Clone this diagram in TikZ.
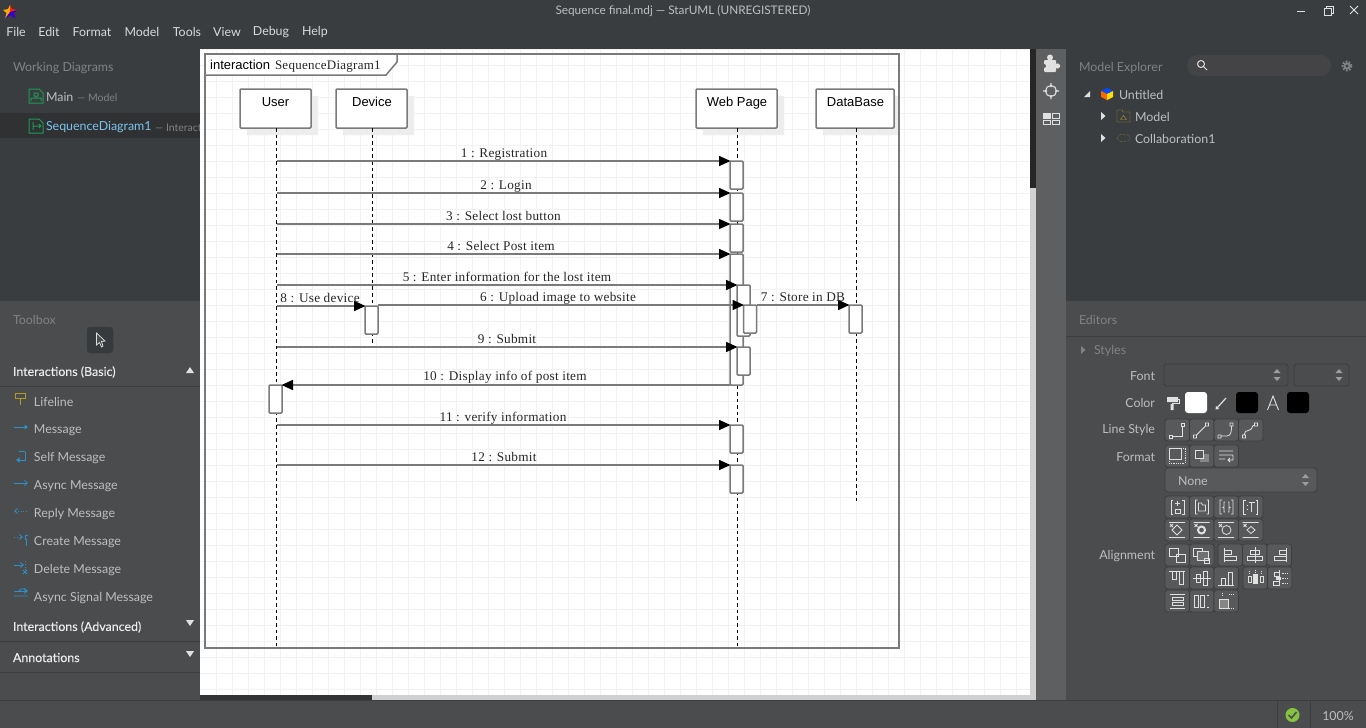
\documentclass[tikz,border=0pt]{standalone}
\usepackage{fontspec}
\usetikzlibrary{arrows.meta,calc}
\newfontfamily\uif{Lato}
\newfontfamily\uib[FakeBold=0.25]{Lato}
\newfontfamily\hsf{Liberation Sans}
\newfontfamily\srf[LetterSpace=2]{Liberation Serif}
\definecolor{panelD}{HTML}{3A3D40}
\definecolor{panelL}{HTML}{4B4C4E}
\definecolor{sel}{HTML}{2F3133}
\definecolor{sep}{HTML}{3C3D3F}
\definecolor{tb}{HTML}{5E5F61}
\definecolor{dim}{HTML}{808284}
\definecolor{txt}{HTML}{BDBEC0}
\definecolor{ink}{HTML}{7A7A7A}
\definecolor{btnf}{HTML}{58595B}
\definecolor{ic}{HTML}{E0E0E0}
\definecolor{blueic}{HTML}{2E8FC9}
\definecolor{yel}{HTML}{B09A28}
\definecolor{grn}{HTML}{1F9A55}
\definecolor{seqb}{HTML}{7CC4EE}
\tikzset{
 ui/.style={inner sep=0,outer sep=0,anchor=west,yshift=-1pt,font=\uif\fontsize{12.4}{15}\selectfont,text=txt},
 uir/.style={ui,anchor=east},
 head/.style={ui,text=dim},
 sect/.style={ui,font=\uib\fontsize{12.4}{15}\selectfont,text=white!92!black},
 fr/.style={draw=ink,line width=1.5pt},
 life/.style={draw=ink,line width=1.5pt,fill=white,rounded corners=1pt,minimum height=39pt,inner sep=0,outer sep=0,anchor=north west},
 lifet/.style={inner sep=0,anchor=base,font=\hsf\fontsize{13}{16}\selectfont,text=black},
 act/.style={draw=ink,line width=1.5pt,fill=white,rounded corners=1pt,inner sep=0,outer sep=0,anchor=north west,minimum width=13pt,minimum height=28pt},
 lf/.style={draw=black,line width=.9pt,dash pattern=on 3.6pt off 3pt},
 msg/.style={draw=ink,line width=1.6pt,-{Triangle[length=11.5pt,width=10pt,color=black]},shorten >=-.5pt},
 lbl/.style={inner sep=0,outer sep=0,anchor=base,font=\srf\fontsize{13.25}{15}\selectfont,text=black!85},
 btn/.style={draw=sep,fill=btnf,rounded corners=2.5pt,line width=.8pt},
 icon/.style={draw=ic,line width=.8pt},
 shad/.style={fill=black!7,draw=none},
}
\newcommand{\bt}[3]{\begin{scope}[shift={(#1,#2)}]\draw[btn] (0,0) rectangle (24.5,22); #3\end{scope}}
\pagestyle{empty}
\begin{document}
\begin{tikzpicture}[x=1pt,y=-1pt]
\useasboundingbox (0,0) rectangle (1366,728);
% panels
\fill[panelD] (0,0) rectangle (1366,728);
\fill[panelL] (0,300) rectangle (200,728);
\fill[panelL] (1066,300) rectangle (1366,728);
\fill[panelL] (0,700) rectangle (1366,728);
\fill[sel] (0,113) rectangle (200,138);
\fill[tb] (1036,49) rectangle (1066,700);
\draw[sep] (0,300.5)--(200,300.5) (1066,300.5)--(1366,300.5) (0,386)--(200,386) (0,641)--(200,641) (0,672)--(200,672) (0,700)--(1366,700) (1277,700)--(1277,728) (1310,700)--(1310,728) (1066,336)--(1366,336);
% title bar
\node[ui,anchor=center,font=\uif\fontsize{11.8}{14}\selectfont] (ttl) at (683,10) {Sequence final.mdj — StarUML (UNREGISTERED)};
\fill[orange!70!yellow] (10,5)--(8,9)--(3,10)--(6.5,13)--(5,19)--(10,12)--cycle;
\fill[red!75!orange] (10,5)--(12,9)--(17.5,10)--(10,12)--cycle;
\fill[blue!55!violet] (17.5,10)--(14,13)--(15.5,18.5)--(10,15.5)--(5,19)--(10,12)--cycle;
\draw[ic] (1297,11)--(1305,11);
\draw[ic] (1324,8) rectangle (1331,15) (1326,8)--(1326,6)--(1333,6)--(1333,13)--(1331,13);
\draw[ic,line width=1pt] (1350,6)--(1358,14) (1358,6)--(1350,14);
% menu
\node[ui,anchor=center,text=white!85!black] (mFile) at (16,31) {File};
\node[ui,anchor=center,text=white!85!black] (mEdit) at (49,31) {Edit};
\node[ui,anchor=center,text=white!85!black] (mFormat) at (92,31) {Format};
\node[ui,anchor=center,text=white!85!black] (mModel) at (142,31) {Model};
\node[ui,anchor=center,text=white!85!black] (mTools) at (187,31) {Tools};
\node[ui,anchor=center,text=white!85!black] (mView) at (227,31) {View};
\node[ui,anchor=center,text=white!85!black] (mDebug) at (271,31) {Debug};
\node[ui,anchor=center,text=white!85!black] (mHelp) at (315,31) {Help};
% working diagrams
\node[head] (wd) at (13,67) {Working Diagrams};
\draw[grn,line width=1pt] (29,89)--(39,89)--(43,93)--(43,103)--(29,103)--cycle (34,93) rectangle (38,96) (36,96)--(36,98) (31,101)--(31,98)--(41,98)--(41,101);
\node[ui] (wdMain) at (46,96) {Main};
\node[ui,text=dim,font=\uif\fontsize{10.5}{13}\selectfont] (wdMainT) at (77,96.5) {— Model};
\draw[grn,line width=1pt] (29,119)--(39,119)--(43,123)--(43,133)--(29,133)--cycle (33,122)--(33,130) (33,126)--(41,126) (39,124)--(41,126)--(39,128);
\node[ui,text=seqb] (wdSeq) at (46,126) {SequenceDiagram1};
\node[ui,text=dim,font=\uif\fontsize{10.5}{13}\selectfont] (wdSeqT) at (155,126.5) {— Interaction};
% canvas
\fill[black!18] (200,49) rectangle (1036,700);
\fill[white] (200,49) rectangle (1030,695);
\fill[black!80] (200,695) rectangle (372,700);
\fill[black!85] (1030,49) rectangle (1036,188);
\begin{scope}
\clip (200,49) rectangle (1030,695);
\foreach \i in {0,...,51} \draw[black!5,line width=.6pt] ({216.5+16*\i},49)--({216.5+16*\i},695);
\foreach \i in {-15,...,25} \draw[black!5,line width=.6pt] (200,{289.3+16*\i})--(1030,{289.3+16*\i});
\end{scope}
% shadows
\fill[shad] (247,96) rectangle (318,135) (343,96) rectangle (414,135) (703,96) rectangle (784,135) (823,96) rectangle (899,135);
% frame
\draw[fr] (205,54) rectangle (899,648);
\draw[fr,fill=white] (205,54)--(397,54)--(397,62)--(386,75)--(205,75)--cycle;
\node[inner sep=0,anchor=west,font=\hsf\fontsize{13}{15}\selectfont] (frK) at (210,64.5) {interaction};
\node[lbl,anchor=base west,font=\srf\fontsize{13}{15}\selectfont] (frN) at (275,69) {SequenceDiagram1};
% lifelines
\node[life,minimum width=71pt] (hU) at (240,89) {}; \node[lifet] (tU) at (275.5,106) {User};
\node[life,minimum width=71pt] (hD) at (336,89) {}; \node[lifet] (tD) at (372,106) {Device};
\node[life,minimum width=81pt] (hW) at (696,89) {}; \node[lifet] (tW) at (737,106) {Web Page};
\node[life,minimum width=78pt] (hB) at (816,89) {}; \node[lifet] (tB) at (855.5,106) {DataBase};
\coordinate (eU) at (276.5,648); \coordinate (eD) at (372.5,347); \coordinate (eW) at (737.5,648); \coordinate (eB) at (856,504);
\draw[lf] (eU|-hU.south)--(eU);
\draw[lf] (eD|-hD.south)--(eD);
\draw[lf] (eW|-hW.south)--(eW);
\draw[lf] (eB|-hB.south)--(eB);
% activations
\node[act] (a1) at (730,161) {};
\node[act] (a2) at (730,193) {};
\node[act] (a3) at (730,224) {};
\node[act,minimum height=131pt] (a4) at (730,254) {};
\node[act,minimum height=51pt] (a5) at (737,285) {};
\node[act] (a6) at (743.5,305) {};
\node[act] (a7) at (849,305) {};
\node[act] (a8) at (365,306) {};
\node[act] (a9) at (737,347) {};
\node[act] (a10) at (269,385) {};
\node[act] (a11) at (730,425) {};
\node[act] (a12) at (730,465) {};
% messages
\draw[msg] (eU|-a1.north west)--(a1.north west);
\draw[msg] (eU|-a2.north west)--(a2.north west);
\draw[msg] (eU|-a3.north west)--(a3.north west);
\draw[msg] (eU|-a4.north west)--(a4.north west);
\draw[msg] (eU|-a5.north west)--(a5.north west);
\draw[msg] (eU|-a8.north west)--(a8.north west);
\draw[msg] (a8.east|-a6.north west)--(a6.north west);
\draw[msg] (a6.north east)--(a7.north west);
\draw[msg] (eU|-a9.north west)--(a9.north west);
\draw[msg] (a4.south west)--(a10.north east);
\draw[msg] (eU|-a11.north west)--(a11.north west);
\draw[msg] (eU|-a12.north west)--(a12.north west);
\node[lbl] (l1) at (504,157) {1 : Registration};
\node[lbl] (l2) at (506,189) {2 : Login};
\node[lbl] (l3) at (503.5,220) {3 : Select lost button};
\node[lbl] (l4) at (501,250) {4 : Select Post item};
\node[lbl] (l5) at (507,281) {5 : Enter information for the lost item};
\node[lbl] (l8) at (320,302) {8 : Use device};
\node[lbl] (l6) at (558,301) {6 : Upload image to website};
\node[lbl] (l7) at (803,301) {7 : Store in DB};
\node[lbl] (l9) at (507,343) {9 : Submit};
\node[lbl] (l10) at (505,380) {10 : Display info of post item};
\node[lbl] (l11) at (503,421) {11 : verify information};
\node[lbl] (l12) at (504,461) {12 : Submit};
% toolbox
\node[head] (tbx) at (13,319) {Toolbox};
\draw[fill=panelD!95!black,draw=sep,rounded corners=3pt] (87,327) rectangle (113,353);
\draw[draw=ic,fill=panelL,line width=.7pt] (96.5,333)--(96.5,345)--(99.5,342.5)--(101.5,347)--(103,346)--(101.5,341.5)--(105,341)--cycle;
\node[sect] (tI) at (13,371) {Interactions (Basic)};
\fill[ic] (186,373)--(194,373)--(190,367)--cycle;
\draw[yel] (15.5,393.5) rectangle (25.5,398) (20.5,398)--(20.5,405);
\node[ui] (i1) at (34,401) {Lifeline};
\draw[blueic,line width=1pt,-{Triangle[length=3.5pt,width=5pt]}] (14,427)--(28,427);
\node[ui] (i2) at (34,429) {Message};
\draw[blueic,line width=1pt,-{Triangle[length=3.5pt,width=5pt]}] (25,451.5)--(25,460)--(16,460);
\draw[blueic,line width=1pt] (25,451.5)--(19,451.5);
\node[ui] (i3) at (34,457) {Self Message};
\draw[blueic,line width=.8pt,-{Straight Barb[length=3pt,width=5pt]}] (14,483)--(28,483);
\node[ui] (i4) at (34,485) {Async Message};
\draw[blueic,line width=.8pt,dotted,{Straight Barb[length=3pt,width=5pt]}-] (14,511)--(28,511);
\node[ui] (i5) at (34,513) {Reply Message};
\draw[blueic,line width=.8pt,dotted,-{Straight Barb[length=3pt,width=5pt]}] (14,537)--(23,537);
\draw[blueic,line width=.8pt] (28,535)--(25,535)--(25,539)--(27,539) (26,539)--(26,546);
\node[ui] (i6) at (34,541) {Create Message};
\draw[blueic,line width=.8pt,-{Straight Barb[length=3pt,width=5pt]}] (14,565)--(24,565);
\draw[blueic,line width=.8pt,dotted] (25,561)--(25,570);
\draw[blueic,line width=.8pt] (23,570)--(27,574) (27,570)--(23,574);
\node[ui] (i7) at (34,569) {Delete Message};
\draw[blueic,line width=.8pt,-{Straight Barb[length=3pt,width=5pt]}] (14,591)--(28,591);
\draw[blueic,line width=.8pt] (14,596)--(28,596) (19,591)--(21,589)--(24,589)--(26,591);
\node[ui] (i8) at (34,597) {Async Signal Message};
\node[sect] (tA) at (13,626) {Interactions (Advanced)};
\fill[ic] (186,620)--(194,620)--(190,626)--cycle;
\node[sect] (tN) at (13,656.5) {Annotations};
\fill[ic] (186,651)--(194,651)--(190,657)--cycle;
% toolbar
\fill[ic,rounded corners=1pt] (1044,60) rectangle (1056,72);
\fill[ic] (1050,57.5) circle (3) (1057.5,66) circle (2.6);
\fill[tb] (1044,66) circle (2);
\draw[ic,line width=1.1pt] (1051,91) circle (5.5) (1051,83)--(1051,87) (1051,95)--(1051,99) (1043,91)--(1047,91) (1055,91)--(1059,91);
\draw[ic] (1043.5,113) rectangle (1050.5,118) (1052.5,113) rectangle (1059.5,118) (1043.5,120) rectangle (1050.5,124) (1052.5,120) rectangle (1059.5,124);
\fill[ic] (1043.5,113) rectangle (1050.5,118);
% model explorer
\node[head] (me) at (1079,67) {Model Explorer};
\fill[panelL!90!black,rounded corners=10pt] (1187,55) rectangle (1331,76);
\draw[ic,line width=1pt] (1201,64) circle (3.5) (1204,67)--(1207,70);
\draw[dim,line width=2.5pt,dash pattern=on 1.5pt off 1.5pt] (1347,66) circle (4.2);
\fill[dim] (1347,66) circle (3.5);
\fill[panelD] (1347,66) circle (1.6);
\fill[ic] (1084,97)--(1090,97)--(1090,91)--cycle;
\fill[blue!70!cyan] (1107,88)--(1113,91)--(1107,94)--(1101,91)--cycle;
\fill[orange!80!red] (1101,91)--(1107,94)--(1107,100)--(1101,97)--cycle;
\fill[yellow!80!orange] (1113,91)--(1107,94)--(1107,100)--(1113,97)--cycle;
\node[ui] (eUntitled) at (1119,94) {Untitled};
\fill[ic] (1101,112)--(1105.5,116)--(1101,120)--cycle;
\draw[yel] (1117,110)--(1122,110)--(1123,112)--(1130,112)--(1130,122)--(1117,122)--cycle (1120.5,119.5)--(1123.5,115.5)--(1126.5,119.5)--cycle;
\node[ui] (eModel) at (1135,116) {Model};
\fill[ic] (1101,134)--(1105.5,138)--(1101,142)--cycle;
\draw[yel,densely dotted] (1123.5,138) ellipse (6.5 and 3.8);
\node[ui] (eCollab) at (1135,138) {Collaboration1};
% editors
\node[head] (ed) at (1079,319) {Editors};
\fill[dim] (1081,346)--(1085.5,350)--(1081,354)--cycle;
\node[ui,text=dim] (eS) at (1094,350) {Styles};
\node[uir] (lFont) at (1155,375) {Font};
\draw[btn,fill=panelL] (1164,364) rectangle (1288,386) (1294,364) rectangle (1349,386);
\foreach \x in {1277,1339} {\fill[ic!70!black] (\x-3.5,373)--(\x+3.5,373)--(\x,369)--cycle (\x-3.5,377)--(\x+3.5,377)--(\x,381)--cycle;}
\node[uir] (lColor) at (1155,402) {Color};
\fill[ic] (1167,397) rectangle (1178,402) (1170.5,404) rectangle (1173.5,410);
\draw[ic] (1178,399.5)--(1179.5,399.5)--(1179.5,403.5)--(1172,403.5)--(1172,405);
\fill[white,rounded corners=3pt] (1185,392) rectangle (1207,413);
\draw[ic,line width=1.2pt] (1217,408)--(1226,398);
\fill[ic] (1215.5,409.5)--(1216,406)--(1219,409)--cycle;
\fill[black,rounded corners=3pt] (1236,392) rectangle (1258,413);
\draw[ic,line width=.9pt] (1267.5,410)--(1273,396)--(1278.5,410) (1269.5,405)--(1276.5,405);
\fill[black,rounded corners=3pt] (1287,392) rectangle (1309,413);
\node[uir] (lLine) at (1155,429) {Line Style};
\bt{1165}{419}{\draw[icon] (4,16) rectangle (7,19) (16,4) rectangle (19,7) (7,17)--(17.5,17)--(17.5,7);}
\bt{1189.5}{419}{\draw[icon] (4,16) rectangle (7,19) (16,4) rectangle (19,7) (7,16)--(16,7);}
\bt{1214}{419}{\draw[icon] (4,16) rectangle (7,19) (16,4) rectangle (19,7) (7,17)--(13,17) to[out=0,in=-90] (17.5,7);}
\bt{1238.5}{419}{\draw[icon] (4,16) rectangle (7,19) (16,4) rectangle (19,7) (5.5,16) to[out=90,in=180] (11,11) to[out=0,in=180] (16,6);}
\node[uir] (lFormat) at (1155,456) {Format};
\bt{1165}{445}{\draw[icon] (4,3) rectangle (16,14); \draw[icon,densely dotted] (16,3)--(20,3)--(20,18)--(4,18)--(4,14);}
\bt{1189.5}{445}{\fill[ic!60!black] (10,9) rectangle (19,17); \draw[icon,fill=btnf] (6,5) rectangle (14,13);}
\bt{1214}{445}{\draw[icon] (5,6)--(19,6) (5,10)--(19,10) (5,14)--(11,14) (19,10)--(19,15)--(14,15) (16,13)--(14,15)--(16,17);}
\draw[btn,rounded corners=3pt] (1165,468) rectangle (1317,492);
\node[ui] (nn) at (1178,480) {None};
\fill[ic!70!black] (1302,478)--(1309,478)--(1305.5,474)--cycle (1302,482)--(1309,482)--(1305.5,486)--cycle;
% row 1
\bt{1165}{496}{\draw[icon] (8,4)--(6,4)--(6,18)--(8,18) (17,4)--(19,4)--(19,18)--(17,18) (12.5,5)--(12.5,10) (10,7.5)--(15,7.5) (10,13) rectangle (15,17);}
\bt{1189.5}{496}{\draw[icon] (8,4)--(6,4)--(6,18)--(8,18) (17,4)--(19,4)--(19,18)--(17,18) (9,15)--(9,7)--(12,7)--(13,9)--(16,9)--(16,15)--cycle;}
\bt{1214}{496}{\draw[icon] (8,4)--(6,4)--(6,18)--(8,18) (17,4)--(19,4)--(19,18)--(17,18) (11,6)--(10,6)--(10,11)--(9,11.5)--(10,12)--(10,16)--(11,16) (14,6)--(15,6)--(15,11)--(16,11.5)--(15,12)--(15,16)--(14,16);}
\bt{1238.5}{496}{\draw[icon] (7,4)--(5,4)--(5,18)--(7,18) (17,4)--(19,4)--(19,18)--(17,18) (10,6)--(16,6) (13,6)--(13,16) (9,9)--(9,9.5) (9,13)--(9,13.5);}
% row 2
\foreach \n/\x in {1/1165,2/1189.5,3/1214,4/1238.5}{\begin{scope}[shift={(\x,519)}]\draw[btn] (0,0) rectangle (24.5,22);\draw[icon] (4,3.5)--(20,3.5) (4,18.5)--(20,18.5) (5,5)--(8,8) (8,5)--(5,8);\end{scope}}
\draw[icon] (1177,525) -- (1182,530)--(1177,535)--(1172,530)--cycle (1251,526.5)--(1255,530)--(1251,533.5)--(1247,530)--cycle (1226.5,530) circle (4.5);
\draw[icon,line width=2pt] (1201.5,530) circle (3.5);
% alignment
\node[uir] (lAlign) at (1155,555) {Alignment};
\bt{1165}{544}{\draw[icon] (4,4) rectangle (13,12) (11,10) rectangle (20,18);}
\bt{1189.5}{544}{\draw[icon] (4,4) rectangle (13,12); \draw[icon,fill=ic!50!black] (8,7) rectangle (19,16); \draw[icon] (15,14) rectangle (20,19);}
\bt{1218}{544}{\draw[icon] (6,4)--(6,18) (6,6.5) rectangle (13,10.5) (6,12.5) rectangle (18,16.5);}
\bt{1242.5}{544}{\draw[icon] (12.5,3)--(12.5,19) (8,6.5) rectangle (17,10.5) (5,12.5) rectangle (20,16.5);}
\bt{1267}{544}{\draw[icon] (19,4)--(19,18) (12,6.5) rectangle (19,10.5) (7,12.5) rectangle (19,16.5);}
\bt{1165}{567}{\draw[icon] (4,4)--(20,4) (7,4) rectangle (11,12) (14,4) rectangle (18,17);}
\bt{1189.5}{567}{\draw[icon] (3,11)--(21,11) (7,7) rectangle (11,15) (14,4) rectangle (18,18);}
\bt{1214}{567}{\draw[icon] (4,18)--(20,18) (7,11) rectangle (11,18) (14,5) rectangle (18,18);}
\bt{1243}{567}{\draw[icon] (5,9) rectangle (8,15) (17,9) rectangle (20,15); \fill[ic] (10,7) rectangle (15,17); \draw[icon,densely dotted] (6.5,4)--(6.5,7) (12.5,3)--(12.5,6) (18.5,4)--(18.5,7);}
\bt{1267.5}{567}{\draw[icon] (12,3)--(12,19) (7,5) rectangle (12,9) (6,14) rectangle (12,18); \fill[ic] (8,10) rectangle (13,13); \draw[icon,densely dotted] (14,6)--(20,6) (14,11)--(20,11) (14,16)--(20,16);}
\bt{1165}{590}{\draw[icon] (5,4)--(20,4) (5,18)--(20,18) (7,7) rectangle (18,10.5) (7,12) rectangle (18,15.5);}
\bt{1189.5}{590}{\draw[icon] (5,5) rectangle (9,17) (11,5) rectangle (15,17); \draw[icon,densely dotted] (17,5)--(20,5) (17,17)--(20,17);}
\bt{1214}{590}{\draw[icon,densely dotted] (8,3)--(8,6) (15,4)--(20,4) (15,18)--(20,18); \draw[icon,fill=ic!60!black] (5,9) rectangle (14,18);}
% status
\definecolor{okg}{HTML}{86C440}
\fill[okg] (1292.5,715) circle (7);
\draw[panelL,line width=1.6pt] (1288.5,715)--(1291.5,718)--(1296.5,712);
\node[ui,anchor=center] (zoomv) at (1338,715) {100\%};
\end{tikzpicture}
\end{document}
